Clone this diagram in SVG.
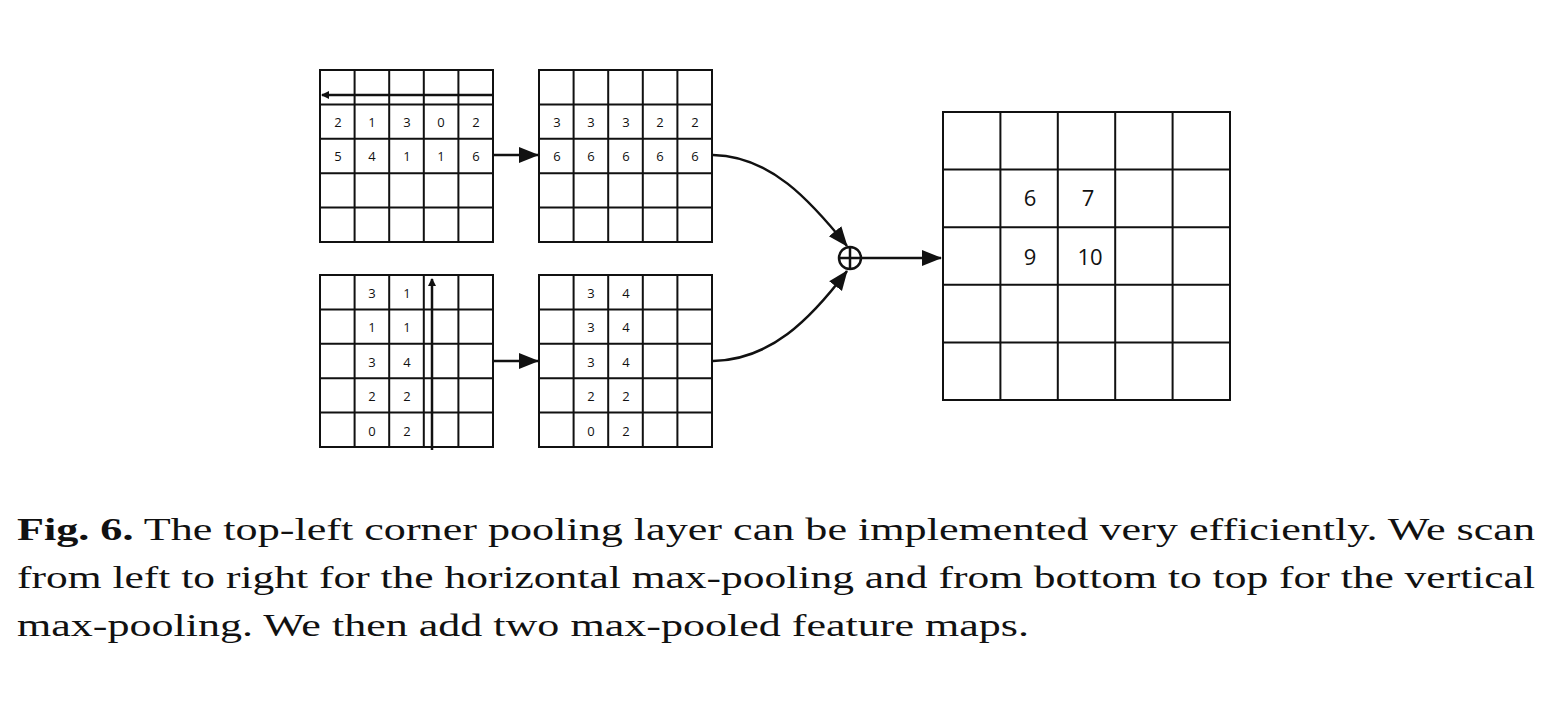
<svg xmlns="http://www.w3.org/2000/svg" width="1546" height="701" viewBox="0 0 1546 701">
<style>
.g{fill:none;stroke:#111;stroke-width:2}
.s{font-family:"Open Sans","Liberation Sans",sans-serif;font-size:13px;text-anchor:middle;fill:#111}
.b{font-family:"Open Sans","Liberation Sans",sans-serif;font-size:22px;text-anchor:middle;fill:#111}
.c{font-family:"Liberation Serif",serif;font-size:31px;fill:#111}
.l{fill:none;stroke:#111;stroke-width:2.5}
</style>
<defs>
<marker id="a" markerWidth="8" markerHeight="8" refX="7" refY="4" orient="auto" markerUnits="userSpaceOnUse" viewBox="0 0 8 8"><path d="M0,0L8,4L0,8z" fill="#111"/></marker>
<marker id="A" markerWidth="20" markerHeight="20" refX="19" refY="10" orient="auto" markerUnits="userSpaceOnUse" viewBox="0 0 20 20"><path d="M0,2L20,10L0,18z" fill="#111"/></marker>
<g id="grid5"><rect x="0" y="0" width="173" height="172" class="g"/><path class="g" d="M34.6,0V172M69.2,0V172M103.8,0V172M138.4,0V172M0,34.4H173M0,68.8H173M0,103.2H173M0,137.6H173"/></g>
</defs>
<g id="tl"><use href="#grid5" x="320" y="70"/>
<text class="s" y="127"><tspan x="338">2</tspan><tspan x="372">1</tspan><tspan x="407">3</tspan><tspan x="441">0</tspan><tspan x="476">2</tspan></text>
<text class="s" y="161"><tspan x="338">5</tspan><tspan x="372">4</tspan><tspan x="407">1</tspan><tspan x="441">1</tspan><tspan x="476">6</tspan></text></g>
<g id="tr"><use href="#grid5" x="539" y="70"/>
<text class="s" y="127"><tspan x="557">3</tspan><tspan x="591">3</tspan><tspan x="626">3</tspan><tspan x="660">2</tspan><tspan x="695">2</tspan></text>
<text class="s" y="161"><tspan x="557">6</tspan><tspan x="591">6</tspan><tspan x="626">6</tspan><tspan x="660">6</tspan><tspan x="695">6</tspan></text></g>
<g id="bl"><use href="#grid5" x="320" y="275"/>
<text class="s"><tspan x="372" y="298">3</tspan><tspan x="407" y="298">1</tspan><tspan x="372" y="332">1</tspan><tspan x="407" y="332">1</tspan><tspan x="372" y="367">3</tspan><tspan x="407" y="367">4</tspan><tspan x="372" y="401">2</tspan><tspan x="407" y="401">2</tspan><tspan x="372" y="436">0</tspan><tspan x="407" y="436">2</tspan></text></g>
<g id="br"><use href="#grid5" x="539" y="275"/>
<text class="s"><tspan x="591" y="298">3</tspan><tspan x="626" y="298">4</tspan><tspan x="591" y="332">3</tspan><tspan x="626" y="332">4</tspan><tspan x="591" y="367">3</tspan><tspan x="626" y="367">4</tspan><tspan x="591" y="401">2</tspan><tspan x="626" y="401">2</tspan><tspan x="591" y="436">0</tspan><tspan x="626" y="436">2</tspan></text></g>
<g id="out"><rect x="943" y="112" width="287" height="288" class="g"/>
<path class="g" d="M1000.4,112V400M1057.8,112V400M1115.2,112V400M1172.6,112V400M943,169.6H1230M943,227.2H1230M943,284.8H1230M943,342.4H1230"/>
<text class="b" y="206"><tspan x="1030">6</tspan><tspan x="1088">7</tspan></text>
<text class="b" y="265"><tspan x="1030">9</tspan><tspan x="1090">10</tspan></text></g>
<g id="plus"><circle cx="850" cy="258" r="11" class="l"/><path class="l" d="M839,258H861M850,247V269"/></g>
<g id="connectors">
<path class="l" d="M493,95H322" marker-end="url(#a)"/>
<path class="l" d="M432,450V279" marker-end="url(#a)"/>
<path class="l" d="M493,155H538" marker-end="url(#A)"/>
<path class="l" d="M493,361H538" marker-end="url(#A)"/>
<path class="l" d="M713,155C770,156 810,200 847,246" marker-end="url(#A)"/>
<path class="l" d="M713,361C770,360 810,320 847,271" marker-end="url(#A)"/>
<path class="l" d="M861,258H941" marker-end="url(#A)"/>
</g>
<g id="caption">
<text class="c" x="17" y="540" textLength="1518" lengthAdjust="spacingAndGlyphs"><tspan font-weight="bold">Fig. 6.</tspan> The top-left corner pooling layer can be implemented very efficiently. We scan</text>
<text class="c" x="17" y="588" textLength="1518" lengthAdjust="spacingAndGlyphs">from left to right for the horizontal max-pooling and from bottom to top for the vertical</text>
<text class="c" x="17" y="636" textLength="1012" lengthAdjust="spacingAndGlyphs">max-pooling. We then add two max-pooled feature maps.</text>
</g>
</svg>
